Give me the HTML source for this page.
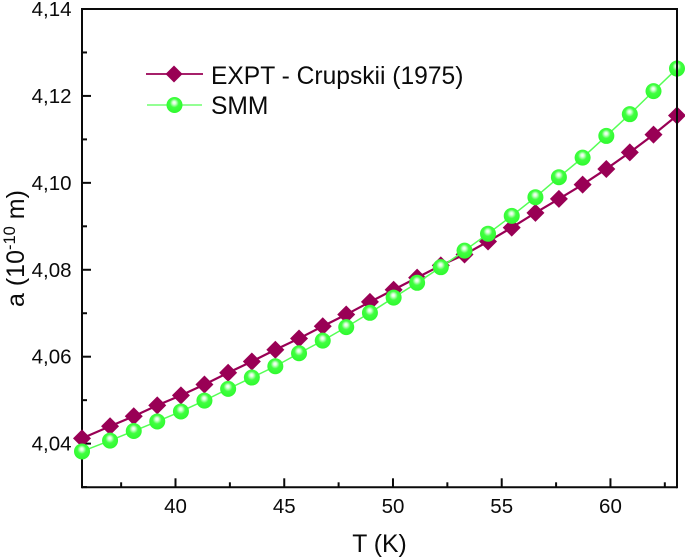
<!DOCTYPE html>
<html lang="en">
<head>
<meta charset="utf-8">
<title>Lattice parameter vs temperature</title>
<style>
html,body{margin:0;padding:0;background:#fff;}
svg{display:block;}
text{font-family:"Liberation Sans",Arial,sans-serif;fill:#0a0a0a;}
</style>
</head>
<body>
<svg id="chart" xmlns="http://www.w3.org/2000/svg" width="685" height="557" viewBox="0 0 685 557">
  <defs>
    <radialGradient id="ball" cx="0.5" cy="0.42" r="0.55" fx="0.48" fy="0.34">
      <stop offset="0" stop-color="#ffffff"/>
      <stop offset="0.18" stop-color="#d8ffd8"/>
      <stop offset="0.5" stop-color="#40ff40"/>
      <stop offset="1" stop-color="#30fa30"/>
    </radialGradient>
  </defs>
  <g id="axes-under"></g>
  <g id="series-layer"></g>
  <g id="axes-over"></g>
  <g id="labels"></g>
  <text x="379.5" y="552" font-size="24.7" text-anchor="middle">T (K)</text>
  <text transform="translate(24,307) rotate(-90)" font-size="25">a (10<tspan font-size="16.5" dy="-9">-10</tspan><tspan dy="9"> m)</tspan></text>
  <g>
    <g>
      <line x1="146" x2="203" y1="74" y2="74" stroke="#990055" stroke-width="1.8"/>
      <polygon points="174,65.5 182.5,74 174,82.5 165.5,74" fill="#990055"/>
      <text x="211" y="84" font-size="24.6">EXPT - Crupskii (1975)</text>
    </g>
    <g>
      <line x1="147" x2="202" y1="105" y2="105" stroke="#55ff55" stroke-width="1.3"/>
      <circle cx="174.5" cy="105" r="8" fill="url(#ball)"/>
      <text x="211" y="114" font-size="24.6">SMM</text>
    </g>
  </g>
</svg>
<script>
const temperature = [35.70,36.99,38.08,39.16,40.25,41.33,42.42,43.51,44.59,45.68,46.77,47.85,48.94,50.03,51.11,52.20,53.29,54.37,55.46,56.55,57.63,58.72,59.81,60.89,61.98,63.06];
const exptValues = [4.0412,4.0440,4.0463,4.0488,4.0511,4.0536,4.0563,4.0589,4.0616,4.0642,4.0670,4.0697,4.0726,4.0754,4.0782,4.0810,4.0835,4.0865,4.0897,4.0931,4.0963,4.0996,4.1032,4.1070,4.1111,4.1155];
const smmValues = [4.0382,4.0407,4.0429,4.0451,4.0474,4.0499,4.0526,4.0552,4.0578,4.0608,4.0637,4.0668,4.0701,4.0736,4.0770,4.0806,4.0844,4.0883,4.0924,4.0967,4.1013,4.1058,4.1108,4.1158,4.1211,4.1263];
const xMajorTicks = [40,45,50,55,60];
const xMinorTicks = [37.5,42.5,47.5,52.5,57.5,62.5];
const xTickLabels = ["40","45","50","55","60"];
const yMajorTicks = [4.04,4.06,4.08,4.10,4.12,4.14];
const yMinorTicks = [4.03,4.05,4.07,4.09,4.11,4.13];
const yTickLabels = ["4,04","4,06","4,08","4,10","4,12","4,14"];

const NS = "http://www.w3.org/2000/svg";
const plotLeft = 82, plotRight = 677, plotTop = 9, plotBottom = 487.3;
const xMin = 35.70, xMax = 63.06, yMin = 4.02995, yMax = 4.14;

function xScale(t) { return plotLeft + (t - xMin) / (xMax - xMin) * (plotRight - plotLeft); }
function yScale(v) { return plotBottom - (v - yMin) / (yMax - yMin) * (plotBottom - plotTop); }

function make(tag, attrs, parent) {
  const el = document.createElementNS(NS, tag);
  for (const k in attrs) el.setAttribute(k, attrs[k]);
  parent.appendChild(el);
  return el;
}

const under = document.getElementById("axes-under");
const over = document.getElementById("axes-over");
const labels = document.getElementById("labels");
const seriesLayer = document.getElementById("series-layer");
const axisStyle = { stroke: "#0a0a0a", "stroke-width": 2, fill: "none" };

const leftAxis = make("line", Object.assign({ x1: plotLeft, x2: plotLeft, y1: plotTop - 1, y2: plotBottom + 1 }, axisStyle), under);


const bottomAxis = make("line", Object.assign({ x1: plotLeft, x2: plotRight, y1: plotBottom, y2: plotBottom }, axisStyle), under);


const topAxis = make("line", Object.assign({ x1: plotLeft, x2: plotRight + 1, y1: plotTop, y2: plotTop }, axisStyle), under);



xMajorTicks.forEach(function (t, i) {
  const tick = make("line", Object.assign({ x1: xScale(t), x2: xScale(t), y1: plotBottom, y2: plotBottom - 9 }, axisStyle), under);
  
  
  const label = make("text", { x: xScale(t), y: 513, "font-size": 20.5, "text-anchor": "middle" }, labels);
  label.textContent = xTickLabels[i];
  
  
});
xMinorTicks.forEach(function (t) {
  const tick = make("line", Object.assign({ x1: xScale(t), x2: xScale(t), y1: plotBottom, y2: plotBottom - 5 }, axisStyle), under);
  
  
});
yMajorTicks.forEach(function (v, i) {
  const tick = make("line", Object.assign({ x1: plotLeft, x2: plotLeft + 9, y1: yScale(v), y2: yScale(v) }, axisStyle), under);
  
  
  const label = make("text", { x: 71.5, y: yScale(v) + 7, "font-size": 20.5, "text-anchor": "end" }, labels);
  label.textContent = yTickLabels[i];
  
  
});
yMinorTicks.forEach(function (v) {
  const tick = make("line", Object.assign({ x1: plotLeft, x2: plotLeft + 5, y1: yScale(v), y2: yScale(v) }, axisStyle), under);
  
  
});

function polyPoints(values) {
  return values.map(function (v, i) { return xScale(temperature[i]).toFixed(2) + "," + yScale(v).toFixed(2); }).join(" ");
}

const exptLine = make("polyline", { points: polyPoints(exptValues), fill: "none", stroke: "#990055", "stroke-width": 2.2 }, seriesLayer);


exptValues.forEach(function (v, i) {
  const cx = xScale(temperature[i]), cy = yScale(v), r = 9;
  const pts = [[cx, cy - r], [cx + r, cy], [cx, cy + r], [cx - r, cy]].map(function (p) { return p.join(","); }).join(" ");
  const marker = make("polygon", { points: pts, fill: "#990055" }, seriesLayer);
  
  
});

const smmLine = make("polyline", { points: polyPoints(smmValues), fill: "none", stroke: "#55ff55", "stroke-width": 1.5 }, seriesLayer);


smmValues.forEach(function (v, i) {
  const marker = make("circle", { cx: xScale(temperature[i]), cy: yScale(v), r: 8, fill: "url(#ball)" }, seriesLayer);
  
  
});

const rightAxis = make("line", Object.assign({ x1: plotRight, x2: plotRight, y1: plotTop - 1, y2: plotBottom + 1 }, axisStyle), over);


</script>
</body>
</html>
